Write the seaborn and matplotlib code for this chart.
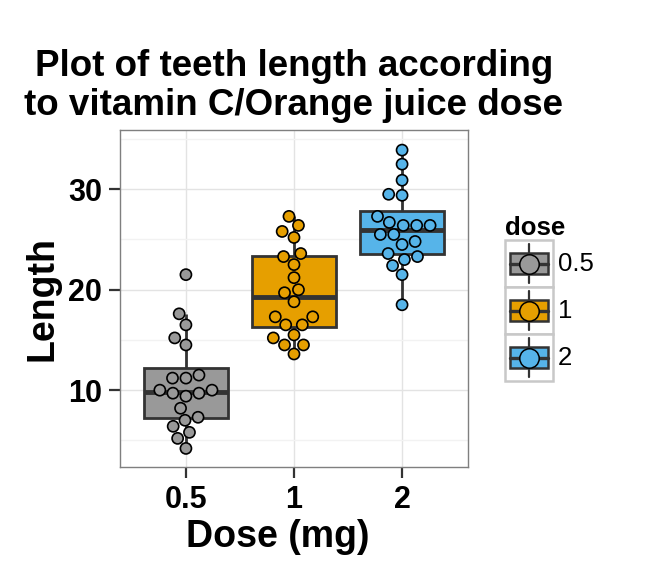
import pandas as pd
import numpy as np
import seaborn as sns
import matplotlib.pyplot as plt
from matplotlib.patches import Rectangle
from matplotlib.lines import Line2D
from matplotlib.legend_handler import HandlerBase

# ToothGrowth tooth length, grouped by dose
len_dose_05 = [4.2, 11.5, 7.3, 5.8, 6.4, 10.0, 11.2, 11.2, 5.2, 7.0,
               15.2, 21.5, 17.6, 9.7, 14.5, 10.0, 8.2, 9.4, 16.5, 9.7]
len_dose_1 = [16.5, 16.5, 15.2, 17.3, 22.5, 17.3, 13.6, 14.5, 18.8, 15.5,
              19.7, 23.3, 23.6, 26.4, 20.0, 25.2, 25.8, 21.2, 14.5, 27.3]
len_dose_2 = [23.6, 18.5, 33.9, 25.5, 26.4, 32.5, 26.7, 21.5, 23.3, 29.5,
              25.5, 26.4, 22.4, 24.5, 24.8, 30.9, 26.4, 27.3, 29.4, 23.0]
dose_labels = ["0.5", "1", "2"]
dose_colors = ["#999999", "#E69F00", "#56B4E9"]

df = pd.DataFrame({
    "dose": ["0.5"] * len(len_dose_05) + ["1"] * len(len_dose_1) + ["2"] * len(len_dose_2),
    "len": len_dose_05 + len_dose_1 + len_dose_2,
})

sns.set_style("white")
plt.rcParams["font.family"] = ["Liberation Sans", "DejaVu Sans"]
plt.rcParams["text.color"] = "black"
plt.rcParams["axes.labelcolor"] = "black"

fig = plt.figure(figsize=(6.72, 5.76), dpi=100)
ax = fig.add_axes([120 / 672, 1 - 467 / 576, 348 / 672, 337 / 576])

palette = dict(zip(dose_labels, dose_colors))
edge = "#333333"
sns.boxplot(data=df, x="dose", y="len", hue="dose", order=dose_labels,
            palette=palette, saturation=1, width=0.78, linewidth=2,
            linecolor=edge, showfliers=False, showcaps=False, legend=False,
            ax=ax, medianprops=dict(linewidth=3.5, color=edge), zorder=2)
sns.swarmplot(data=df, x="dose", y="len", hue="dose", order=dose_labels,
              palette=palette, size=8, edgecolor="black", linewidth=1.2,
              legend=False, ax=ax, zorder=3)

ax.set_xlim(-0.61, 2.61)
ax.set_ylim(2.35, 35.9)
ax.set_yticks([10, 20, 30])
ax.set_yticks([5, 15, 25, 35], minor=True)
ax.grid(True, which="major", color="#e3e3e3", linewidth=1)
ax.grid(True, which="minor", color="#f2f2f2", linewidth=1)
ax.set_axisbelow(True)
for s in ax.spines.values():
    s.set_color("#7f7f7f")
    s.set_linewidth(1)
ax.tick_params(axis="both", which="major", length=8, width=1.6, color="#333333",
               labelcolor="black", labelsize=22, pad=5, direction="out",
               bottom=True, left=True)
ax.tick_params(which="minor", length=0)
for lab in ax.get_xticklabels() + ax.get_yticklabels():
    lab.set_fontweight("bold")

ax.set_xlabel("Dose (mg)", fontsize=27, fontweight="bold")
ax.set_ylabel("Length", fontsize=27, fontweight="bold")
ax.xaxis.set_label_coords(0.454, -0.154)
ax.yaxis.set_label_coords(-0.170, 0.5)
ax.set_title("Plot of teeth length according\nto vitamin C/Orange juice dose",
             fontsize=26.5, fontweight="bold", pad=11, linespacing=1.15)


class BoxKey(HandlerBase):
    def create_artists(self, legend, orig, xd, yd, w, h, fontsize, trans):
        x0, y0 = -xd, -yd
        arts = [Rectangle((x0, y0), w, h, facecolor="white",
                          edgecolor="#c8c8c8", lw=1.8, transform=trans)]
        bw, bh = w * 0.78, h * 0.45
        bx, by = x0 + (w - bw) / 2, y0 + (h - bh) / 2
        cx, cy = x0 + w / 2, y0 + h / 2
        arts.append(Line2D([cx, cx], [y0 + h * 0.08, y0 + h * 0.92],
                           color=edge, lw=1.6, transform=trans))
        arts.append(Rectangle((bx, by), bw, bh, facecolor=orig.get_facecolor(),
                              edgecolor=edge, lw=1.8, transform=trans))
        arts.append(Line2D([bx, bx + bw], [cy, cy], color=edge, lw=2.4,
                           transform=trans))
        arts.append(Line2D([cx], [cy], marker="o", markersize=14,
                           markerfacecolor=orig.get_facecolor(),
                           markeredgecolor="black", markeredgewidth=1.1,
                           transform=trans))
        return arts


handles = [Rectangle((0, 0), 1, 1, facecolor=c) for c in dose_colors]
leg = fig.legend(handles, dose_labels, title="dose",
                 handler_map={Rectangle: BoxKey()},
                 loc="upper left", bbox_to_anchor=(505 / 672, 1 - 216 / 576),
                 frameon=False, fontsize=18.5, handlelength=1.87,
                 handleheight=2.44, handletextpad=0.2, labelspacing=0.0,
                 borderaxespad=0, borderpad=0,
                 title_fontproperties={"weight": "bold", "size": 18.5})
leg._legend_box.align = "left"

fig.savefig("out.png", dpi=100)
